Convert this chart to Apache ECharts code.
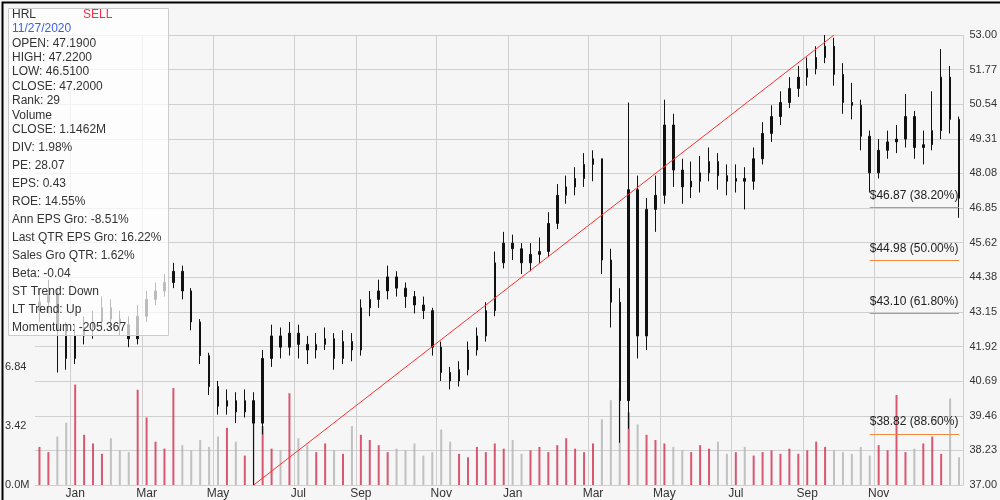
<!DOCTYPE html>
<html>
<head>
<meta charset="utf-8">
<script src="https://cdn.jsdelivr.net/npm/echarts@6/dist/echarts.min.js"></script>
<style>html,body{margin:0;padding:0;background:#f6f6f6}#main{width:1000px;height:500px}</style>
</head>
<body>
<div id="main"></div>
<script>
// weekly bars, Dec 2018 .. Nov 2020
const opens = [43.2,43.5,43.8,42.5,41.5,42.3,42.6,42.8,43.3,42.9,42.7,42.2,43.0,43.6,43.9,44.2,44.6,43.9,42.8,41.6,40.5,39.8,40.0,39.6,40.0,39.2,41.5,42.3,41.9,42.4,42.0,41.8,42.0,42.2,41.5,42.1,41.8,43.3,43.6,43.9,44.4,44.0,43.7,43.4,43.2,41.9,41.0,40.7,41.1,41.8,42.3,43.2,44.9,45.6,45.4,44.9,45.2,45.3,46.3,47.3,47.6,47.9,48.4,48.6,45.0,43.5,40.0,47.5,42.3,46.8,47.3,49.8,48.2,47.6,47.8,48.1,48.5,48.0,47.8,47.9,47.8,48.6,49.5,50.1,50.6,51.1,51.5,51.8,52.2,52.6,51.6,50.6,50.5,49.4,48.1,48.9,49.2,49.3,50.1,49.0,49.1,49.6,51.5,50.0];
const closes = [43.5,43.8,42.5,41.5,42.3,42.6,42.8,43.3,42.9,42.7,42.2,43.0,43.6,43.9,44.2,44.6,43.9,42.8,41.6,40.5,39.8,40.0,39.6,40.0,39.2,41.5,42.3,41.9,42.4,42.0,41.8,42.0,42.2,41.5,42.1,41.8,43.3,43.6,43.9,44.4,44.0,43.7,43.4,43.2,41.9,41.0,40.7,41.1,41.8,42.3,43.2,44.9,45.6,45.4,44.9,45.2,45.3,46.3,47.3,47.6,47.9,48.4,48.6,45.0,43.5,40.0,47.5,42.3,46.8,47.3,49.8,48.2,47.6,47.8,48.1,48.5,48.0,47.8,47.9,47.8,48.6,49.5,50.1,50.6,51.1,51.5,51.8,52.2,52.6,51.6,50.6,50.5,49.4,48.1,48.9,49.2,49.3,50.1,49.0,49.1,49.6,51.5,50.0,47.2];
const highs = [44.0,44.3,44.0,42.8,42.7,43.0,43.2,43.7,43.6,43.2,43.0,43.4,43.9,44.2,44.5,44.9,44.8,44.0,42.9,41.7,40.7,40.4,40.3,40.4,40.3,41.8,42.7,42.6,42.8,42.7,42.3,42.4,42.6,42.4,42.5,42.4,43.6,43.9,44.3,44.8,44.6,44.2,43.9,43.7,43.3,42.1,41.2,41.4,42.1,42.6,43.5,45.3,46.0,45.9,45.6,45.6,45.8,46.7,47.7,48.0,48.3,48.8,48.9,48.6,45.4,44.0,50.6,48.0,47.2,48.0,50.7,50.2,48.6,48.5,48.7,49.0,48.8,48.4,48.4,48.3,49.0,49.9,50.5,51.0,51.5,51.9,52.2,52.6,53.0,52.9,52.0,51.3,50.7,49.6,49.3,49.6,49.8,50.9,50.3,49.6,51.0,52.5,51.9,50.1];
const lows = [42.8,43.1,41.0,41.1,41.3,42.0,42.2,42.6,42.5,42.3,41.9,42.0,42.8,43.4,43.7,44.0,43.6,42.5,41.3,40.2,39.5,39.5,39.2,39.4,37.0,38.8,41.2,41.5,41.6,41.5,41.3,41.5,41.8,41.1,41.3,41.4,41.6,43.0,43.3,43.6,43.7,43.3,43.1,42.9,41.6,40.7,40.4,40.5,40.9,41.6,42.1,43.0,44.7,45.0,44.5,44.6,44.9,45.1,46.1,47.0,47.3,47.6,47.8,44.5,42.6,38.5,39.0,41.5,41.8,46.0,47.0,47.6,47.0,47.2,47.4,47.8,47.5,47.3,47.4,46.8,47.5,48.4,49.2,49.8,50.4,50.8,51.2,51.6,52.0,51.2,50.2,50.0,48.9,47.4,47.9,48.6,48.8,49.0,48.6,48.4,48.9,49.3,49.5,46.5];
const volumes = [2.2,1.9,2.8,3.6,5.8,2.9,2.4,1.8,2.7,2.0,1.9,5.5,3.9,2.5,2.1,5.6,2.3,2.0,2.6,2.2,2.8,3.3,2.5,1.7,4.6,3.4,2.1,2.0,5.3,2.7,2.3,1.9,2.4,2.0,1.8,3.4,2.9,2.6,2.3,1.9,2.1,2.0,2.4,1.7,1.9,3.2,2.5,1.8,1.6,2.2,1.9,2.4,2.1,2.6,1.8,2.0,2.2,1.9,2.3,2.7,2.1,1.9,2.4,3.8,4.9,5.6,4.2,3.5,2.9,2.6,2.4,2.2,2.0,1.9,2.3,2.1,2.5,1.8,1.9,2.2,1.7,1.9,2.0,1.8,2.1,1.8,2.0,2.5,2.2,2.0,1.9,1.8,2.2,1.7,2.3,2.0,5.2,1.9,2.1,2.4,2.8,1.8,5.0,1.6];
const monthLabels = {4:'Jan',12:'Mar',20:'May',29:'Jul',36:'Sep',45:'Nov',53:'Jan',62:'Mar',70:'May',78:'Jul',86:'Sep',94:'Nov'};
const fibLevels = [[46.87,'38.20%'],[44.98,'50.00%'],[43.10,'61.80%'],[38.82,'88.60%']];
const infoLines = ['OPEN: 47.1900','HIGH: 47.2200','LOW: 46.5100','CLOSE: 47.2000','Rank: 29','Volume','CLOSE: 1.1462M','DIV: 1.98%','PE: 28.07','EPS: 0.43','ROE: 14.55%','Ann EPS Gro: -8.51%','Last QTR EPS Gro: 16.22%','Sales Gro QTR: 1.62%','Beta: -0.04','ST Trend: Down','LT Trend: Up','Momentum: -205.367'];
const infoY = [44,58,72,87,101,116,130,148,166,184,202,220,238,256,274,292,310,328];

const cats = closes.map((_, i) => monthLabels[i] || '');
const candles = closes.map((c, i) => [opens[i], c, lows[i], highs[i]]);
const volData = volumes.map((v, i) => ({
  value: v,
  itemStyle: { color: closes[i] >= opens[i] ? 'rgba(205,35,70,0.75)' : 'rgba(175,175,175,0.75)' },
}));
const isMonth = (i) => monthLabels[i] !== undefined;

const fibLines = [];
fibLevels.forEach(([p, pct]) => {
  fibLines.push([
    { coord: [93, p], label: { formatter: '$' + p.toFixed(2) + ' (' + pct + ')' } },
    { coord: [103, p] },
  ]);
});

const font = '12px Helvetica, Arial, sans-serif';
const textEls = [
  { type: 'text', left: 12, top: 9, z: 20, style: { text: 'HRL', fill: '#333', font } },
  { type: 'text', left: 83, top: 9, z: 20, style: { text: 'SELL', fill: '#ff2a44', font } },
  { type: 'text', left: 12, top: 23, z: 20, style: { text: '11/27/2020', fill: '#3a5fe0', font } },
];
infoLines.forEach((t, i) => {
  textEls.push({ type: 'text', left: 12, top: infoY[i] - 6, z: 20, style: { text: t, fill: '#333', font } });
});

const chart = echarts.init(document.getElementById('main'));
chart.setOption({
  animation: false,
  backgroundColor: '#f6f6f6',
  grid: { left: 35, right: 32, top: 35, bottom: 13 },
  xAxis: {
    type: 'category',
    data: cats,
    axisLine: { show: false },
    axisTick: { show: false },
    axisLabel: { interval: 0, color: '#333', fontSize: 12, margin: 3, fontFamily: 'Helvetica, Arial, sans-serif' },
    splitLine: { show: true, interval: (i) => isMonth(i), lineStyle: { color: '#cfcfcf' } },
  },
  yAxis: [
    {
      type: 'value', position: 'right', min: 37, max: 53, interval: 16 / 13,
      axisLine: { show: false }, axisTick: { show: false },
      axisLabel: { formatter: (v) => v.toFixed(2), color: '#333', fontSize: 11, margin: 6 },
      splitLine: { lineStyle: { color: '#cfcfcf' } },
    },
    {
      type: 'value', position: 'left', min: 0, max: 3.42 * 7.6, interval: 3.42,
      axisLine: { show: false }, axisTick: { show: false }, splitLine: { show: false },
      axisLabel: {
        inside: true, margin: -30, color: '#333', fontSize: 11,
        formatter: (v) => (v < 0.01 ? '0.0M' : v < 7 ? v.toFixed(2) : ''),
      },
    },
  ],
  series: [
    { type: 'bar', yAxisIndex: 1, data: volData, barWidth: 2, z: 1 },
    {
      type: 'candlestick', data: candles, barWidth: 2, z: 3,
      itemStyle: { color: '#111', color0: '#111', borderColor: '#111', borderColor0: '#111', borderWidth: 1 },
      markLine: {
        silent: true, symbol: 'none',
        lineStyle: { color: '#f08a3c', width: 1.2, type: 'solid' },
        label: { position: 'insideStartTop', color: '#222', fontSize: 12, distance: [0, 6] },
        data: fibLines.concat([[
          { coord: [24, 37.0], lineStyle: { color: '#ff3030', width: 1 }, label: { show: false } },
          { coord: [89, 53.0] },
        ]]),
      },
    },
  ],
  graphic: [
    { type: 'rect', left: 8, top: 8, z: 10, shape: { width: 160, height: 327 }, style: { fill: 'rgba(255,255,255,0.72)', stroke: '#cccccc' } },
  ].concat(textEls).concat([
    { type: 'rect', left: 0, top: 0, z: 30, shape: { width: 999, height: 499 }, style: { fill: 'none', stroke: '#000', lineWidth: 2 } },
  ]),
});
</script>
</body>
</html>
